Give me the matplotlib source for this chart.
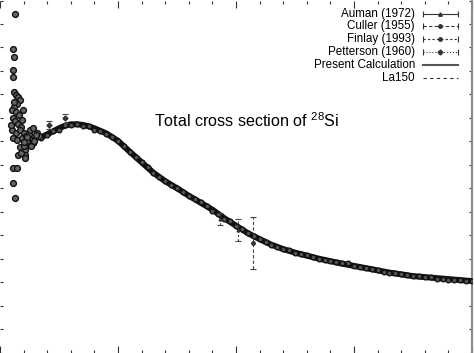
import numpy as np
import matplotlib
matplotlib.use("Agg")
import matplotlib.pyplot as plt
from matplotlib.ticker import MultipleLocator, NullFormatter

plt.rcParams['font.family'] = ['Liberation Sans', 'DejaVu Sans']

# ---------------- data (energy in MeV, cross section in b) ----------------
# present calculation
calc_e = [3.5, 4, 4.5, 5, 5.5, 6, 6.5, 7, 7.5, 8, 9, 10, 11, 12, 13, 14, 15, 16,
          17, 18, 19, 20, 21, 22, 23, 24, 25, 27, 29, 31, 33, 35, 37, 39, 40]
calc_s = [1.834, 1.860, 1.885, 1.911, 1.932, 1.945, 1.945, 1.940, 1.928, 1.911,
          1.868, 1.804, 1.711, 1.621, 1.532, 1.460, 1.400, 1.336, 1.277, 1.217,
          1.145, 1.081, 1.017, 0.966, 0.919, 0.881, 0.851, 0.800, 0.757, 0.719,
          0.681, 0.651, 0.634, 0.617, 0.609]

# La150 evaluation
la150_e = [3.5, 5, 6, 7, 8, 10, 12, 14, 16, 18, 20, 22, 24, 26, 28, 30, 34, 40]
la150_s = [1.83, 1.91, 1.94, 1.94, 1.91, 1.80, 1.62, 1.46, 1.34, 1.22, 1.08,
           0.97, 0.88, 0.83, 0.78, 0.74, 0.67, 0.61]

# Finlay (1993) - resonance region
fin_res_e = [1.27, 1.10, 1.19, 1.10, 1.10, 1.19, 1.36, 1.53, 1.69, 1.44, 1.19, 1.02,
             1.36, 1.61, 1.10, 1.27, 1.53, 1.78, 1.02, 1.36, 1.69, 2.03, 1.10, 1.44,
             1.86, 2.20, 2.46, 1.69, 2.12, 2.12, 2.12, 2.37, 2.63, 2.80, 2.97, 3.14,
             3.31, 2.54, 2.80, 2.29, 1.10, 1.44, 1.10, 1.27, 1.86, 0.93, 1.95, 1.19,
             2.05, 2.30, 2.60, 2.90, 3.05, 1.55, 1.75, 2.00]
fin_res_s = [2.889, 2.583, 2.515, 2.404, 2.345, 2.217, 2.191, 2.174, 2.149, 2.115,
             2.089, 2.064, 2.047, 2.021, 1.996, 1.970, 1.945, 1.919, 1.894, 1.868,
             1.894, 1.868, 1.826, 1.809, 1.826, 1.843, 1.860, 1.749, 1.723, 1.681,
             1.655, 1.766, 1.809, 1.783, 1.826, 1.868, 1.843, 1.894, 1.911, 1.800,
             1.570, 1.570, 1.443, 1.315, 1.979, 1.936, 2.064, 2.132,
             1.760, 1.840, 1.760, 1.800, 1.850, 1.680, 1.700, 1.790]

# Finlay (1993) - smooth region
fin_e = [3.5, 4.0, 4.5, 5.0, 5.5, 6.0, 6.5, 7.0, 7.5, 8.0, 8.5, 9.0, 9.5, 10.0,
         10.5, 11.0, 11.5, 12.0, 12.5, 13.0, 13.5, 14.0, 14.5, 15.0, 15.5, 16.0,
         16.5, 17.0, 17.5, 18.0, 18.5, 19.0, 19.5, 20.0, 20.5, 21.0, 21.5, 22.0,
         22.5, 23.0, 23.5, 24.0, 24.5, 25.0, 25.5, 26.0, 26.5, 27.0, 27.5, 28.0,
         28.5, 29.0, 29.5, 30.0, 30.5, 31.0, 31.5, 32.0, 32.5, 33.0, 33.5, 34.0,
         34.5, 35.0, 35.5, 36.0, 36.5, 37.0, 37.5, 38.0, 38.5, 39.0, 39.5, 40.0]
fin_s = [1.83, 1.85, 1.89, 1.90, 1.94, 1.94, 1.95, 1.93, 1.93, 1.90, 1.89, 1.86,
         1.84, 1.80, 1.76, 1.71, 1.67, 1.62, 1.58, 1.53, 1.50, 1.46, 1.43, 1.40,
         1.37, 1.33, 1.31, 1.28, 1.25, 1.21, 1.18, 1.14, 1.12, 1.08, 1.05, 1.02,
         0.99, 0.97, 0.94, 0.92, 0.90, 0.88, 0.87, 0.85, 0.84, 0.83, 0.81, 0.80,
         0.79, 0.78, 0.77, 0.76, 0.76, 0.74, 0.73, 0.72, 0.71, 0.70, 0.69, 0.68,
         0.68, 0.67, 0.66, 0.65, 0.65, 0.64, 0.64, 0.63, 0.63, 0.62, 0.62, 0.62,
         0.61, 0.61]

# Petterson (1960)
pet_e = [4.18, 5.51]
pet_s = [1.942, 1.998]
pet_err = [0.034, 0.038]

# Auman (1972)
aum_e = [18.64, 20.17]
aum_s = [1.136, 1.042]
aum_err = [0.051, 0.094]

# Culler (1955)
cul_e = [21.44]
cul_s = [0.932]
cul_err = [0.221]

# ---------------- figure ----------------
fig = plt.figure(figsize=(4.74, 3.53), dpi=100)
ax = fig.add_axes([0.0, 0.5 / 353, 472 / 474, 352 / 353])
ax.set_xlim(0, 40)
ax.set_ylim(0, 3.0)

dark = '#111111'
ax.plot(la150_e, la150_s, color=dark, lw=1, ls='--', zorder=2)
ax.plot(calc_e, calc_s, color=dark, lw=4.3, zorder=3)
ax.plot(fin_e, fin_s, 'o', ms=3.4, mfc='#555555', mec='#111111', mew=0.9, zorder=4)
ax.plot(fin_res_e, fin_res_s, 'o', ms=4.2, mfc='#666666', mec='#111111', mew=1.0, zorder=4)

def ebar(x, y, err, fmt, ls, ms):
    l, caps, bars = ax.errorbar(x, y, yerr=err, fmt=fmt, ms=ms, color='#333333',
                                ecolor='#444444', elinewidth=0.8, capsize=2.5,
                                capthick=0.8, zorder=5)
    bars[0].set_linestyle(ls)

ebar(pet_e, pet_s, pet_err, 'D', ':', 2.5)
ebar(aum_e, aum_s, aum_err, '^', (0, (2, 2)), 2)
ebar(cul_e, cul_s, cul_err, 'o', (0, (3, 2)), 2.5)

# ticks
ax.xaxis.set_major_locator(MultipleLocator(10))
ax.xaxis.set_minor_locator(MultipleLocator(2))
ax.yaxis.set_major_locator(MultipleLocator(0.2))
ax.xaxis.set_major_formatter(NullFormatter())
ax.yaxis.set_major_formatter(NullFormatter())
ax.tick_params(which='both', direction='in', top=True, right=True, color='#333333', width=0.8)
ax.tick_params(axis='x', which='major', length=5)
ax.tick_params(axis='x', which='minor', length=2.5)
ax.tick_params(axis='y', which='major', length=2.5)
for s in ['left', 'top', 'bottom']:
    ax.spines[s].set_visible(False)
ax.spines['right'].set_color('#8c8c8c')
ax.spines['right'].set_linewidth(1.6)

ax.text(0.326, 0.659, 'Total cross section of $\\mathregular{^{28}}$Si', transform=ax.transAxes,
        fontsize=11.6, va='center', ha='left')

# gnuplot style key
labels = ['Auman (1972)', 'Culler (1955)', 'Finlay (1993)', 'Petterson (1960)',
          'Present Calculation', 'La150']
rows = [0.963, 0.927, 0.891, 0.854, 0.818, 0.781]
x0, x1, xt = 0.896, 0.970, 0.879
styles = [('-', '^'), ((0, (3, 2)), 'o'), ((0, (2, 2)), 'o'), (':', 'D'), ('-', None), ((0, (3, 3)), None)]
for lab, yy, (ls, mk) in zip(labels, rows, styles):
    ax.text(xt, yy, lab, transform=ax.transAxes, fontsize=8.4, ha='right', va='center')
    if lab == 'Present Calculation':
        ax.plot([x0, x1], [yy, yy], transform=ax.transAxes, color='#555555', lw=1.5)
        continue
    ax.plot([x0, x1], [yy, yy], transform=ax.transAxes, color='#333333', lw=0.8, ls=ls)
    if mk is not None:
        ax.plot([x0, x1], [yy, yy], '|', transform=ax.transAxes, color='#333333', ms=4, mew=0.8)
        ax.plot([(x0 + x1) / 2], [yy], mk, transform=ax.transAxes, color='#333333', ms=2.5)

fig.savefig('out.png', dpi=100)
